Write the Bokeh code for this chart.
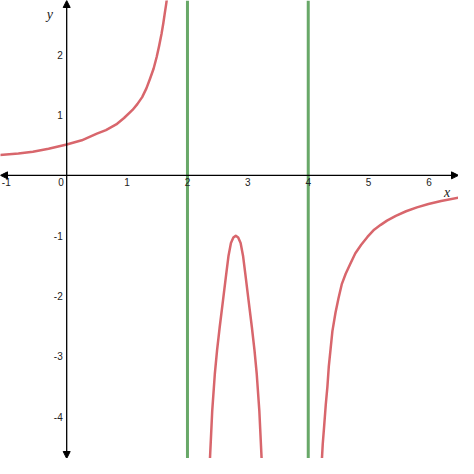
from bokeh.plotting import figure
from bokeh.models import Arrow, NormalHead, Range1d, ColumnDataSource
from bokeh.core.properties import value
from bokeh.embed import file_html
from bokeh.resources import INLINE

# ---- data ----
left_x = [-1.12, -0.80, -0.56, -0.30, 0.00, 0.25, 0.50, 0.65, 0.82, 0.95, 1.09, 1.17, 1.25,
          1.32, 1.38, 1.44, 1.49, 1.53, 1.57, 1.60, 1.624, 1.645, 1.665]
left_y = [0.335, 0.36, 0.39, 0.44, 0.512, 0.58, 0.69, 0.75, 0.843, 0.95, 1.083, 1.18, 1.296,
          1.44, 1.60, 1.77, 1.96, 2.14, 2.34, 2.52, 2.683, 2.82, 2.96]

mid_x = [2.368, 2.373, 2.41, 2.453, 2.49, 2.533, 2.59, 2.64, 2.68, 2.72, 2.76, 2.80,
         2.84, 2.88, 2.92, 2.96, 3.01, 3.067, 3.11, 3.147, 3.19, 3.227, 3.232]
mid_y = [-4.80, -4.68, -3.90, -3.29, -2.90, -2.52, -2.06, -1.65, -1.33, -1.12, -1.03, -1.00,
         -1.03, -1.12, -1.33, -1.65, -2.06, -2.52, -2.90, -3.29, -3.90, -4.68, -4.80]

right_x = [4.222, 4.227, 4.24, 4.264, 4.29, 4.317, 4.34, 4.371, 4.40, 4.451, 4.50, 4.557,
           4.62, 4.691, 4.78, 4.877, 4.98, 5.091, 5.20, 5.304, 5.45, 5.62, 5.80, 5.99,
           6.20, 6.49, 6.55]
right_y = [-4.80, -4.688, -4.45, -4.144, -3.80, -3.504, -3.17, -2.864, -2.58, -2.277, -2.04,
           -1.797, -1.63, -1.477, -1.29, -1.15, -1.02, -0.90, -0.82, -0.75, -0.67, -0.595,
           -0.53, -0.475, -0.425, -0.37, -0.36]

asymptotes = [2, 4]

x_ticks = [-1, 0, 1, 2, 3, 4, 5, 6]
x_tick_labels = ["-1", "0", "1", "2", "3", "4", "5", "6"]
y_ticks = [-4, -3, -2, -1, 1, 2]
y_tick_labels = ["-4", "-3", "-2", "-1", "1", "2"]

X_MIN, X_MAX = -1.096, 6.488
Y_MIN, Y_MAX = -4.69, 2.896

# ---- figure ----
p = figure(width=458, height=458, output_backend="svg", toolbar_location=None,
           x_range=Range1d(X_MIN, X_MAX), y_range=Range1d(Y_MIN, Y_MAX),
           min_border=0)
p.axis.visible = False
p.grid.visible = False
p.outline_line_color = None
p.background_fill_color = "white"

RED = "#d8666c"
GREEN = "#68a868"
INK = "#222222"

# vertical asymptote lines
for a in asymptotes:
    p.line([a, a], [Y_MIN, Y_MAX], line_color=GREEN, line_width=3)

# axes with arrows
head = dict(size=7, fill_color="black", line_color="black")
p.add_layout(Arrow(x_start=X_MIN, y_start=0, x_end=X_MAX, y_end=0,
                   start=NormalHead(**head), end=NormalHead(**head),
                   line_color="black", line_width=1.3))
p.add_layout(Arrow(x_start=0, y_start=Y_MIN, x_end=0, y_end=Y_MAX,
                   start=NormalHead(**head), end=NormalHead(**head),
                   line_color="black", line_width=1.3))

# curve branches
for xs, ys in [(left_x, left_y), (mid_x, mid_y), (right_x, right_y)]:
    p.line(xs, ys, line_color=RED, line_width=2.5, line_join="round")

# tick labels
xs_src = ColumnDataSource(dict(x=[t for t in x_ticks if t != 0],
                               y=[0] * (len(x_ticks) - 1),
                               t=[l for t, l in zip(x_ticks, x_tick_labels) if t != 0]))
p.text("x", "y", text="t", source=xs_src, text_font=value("Liberation Sans"),
       text_font_size="10px", text_color=INK, text_align="center",
       text_baseline="top", y_offset=3)
p.text([0], [0], text=["0"], text_font=value("Liberation Sans"),
       text_font_size="10px", text_color=INK, text_align="right",
       text_baseline="top", x_offset=-3, y_offset=3)
p.text([0] * len(y_ticks), y_ticks, text=y_tick_labels, text_font=value("Liberation Sans"),
       text_font_size="10px", text_color=INK, text_align="right",
       text_baseline="middle", x_offset=-4)

# axis names
p.text([6.30], [-0.29], text=["x"], text_font=value("Liberation Serif"),
       text_font_style="italic", text_font_size="14px", text_color=INK,
       text_align="center", text_baseline="middle")
p.text([-0.28], [2.67], text=["y"], text_font=value("Liberation Serif"),
       text_font_style="italic", text_font_size="14px", text_color=INK,
       text_align="center", text_baseline="middle")

open("out.html", "w").write(file_html(p, INLINE))
